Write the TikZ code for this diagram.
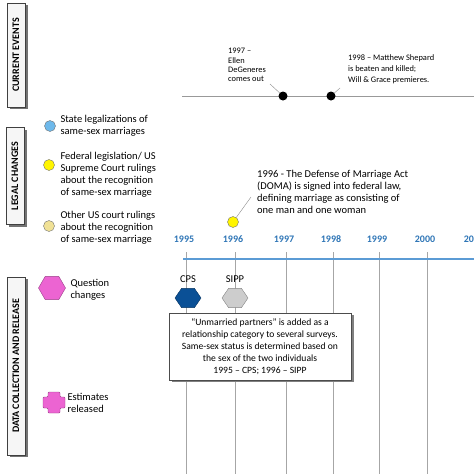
\documentclass[tikz,border=0pt]{standalone}
\usepackage{fontspec}
\setmainfont{Carlito}
\usepackage{tikz}
\usetikzlibrary{positioning,shapes.geometric,shadows}
\definecolor{yearblue}{RGB}{46,117,182}
\definecolor{axisblue}{RGB}{91,155,213}
\definecolor{stateblue}{RGB}{110,185,235}
\definecolor{fedyellow}{RGB}{255,245,0}
\definecolor{otheryellow}{RGB}{240,225,150}
\definecolor{qpink}{RGB}{236,100,210}
\definecolor{cpsblue}{RGB}{10,80,150}
\definecolor{sippgrey}{RGB}{205,205,205}

\begin{document}
\begin{tikzpicture}[x=1pt,y=-1pt,
  every node/.style={font=\fontsize{10.5}{12}\selectfont},
  secbox/.style={draw=black!75, fill=gray!7, thick, rotate=90, minimum height=18pt, inner sep=1pt,
    font=\fontsize{10}{11}\selectfont\bfseries,
    drop shadow={shadow xshift=2.5pt, shadow yshift=-2pt, fill=black!55, opacity=1}},
  legtext/.style={anchor=west, align=left},
  legdot/.style={circle, draw=black!55, minimum size=11pt, inner sep=0pt},
  evdot/.style={circle, fill=black, minimum size=9pt, inner sep=0pt},
  evtext/.style={anchor=north west, align=left, inner sep=0pt, font=\fontsize{8.4}{#1}\selectfont},
  year/.style={font=\fontsize{10}{12}\selectfont\bfseries, text=yearblue},
  hexa/.style={regular polygon, regular polygon sides=6, minimum size=26pt, inner sep=0pt, fill=#1, draw=#1!65!black},
  leader/.style={draw=black!45, thin}]
  \useasboundingbox (0,0) rectangle (474,474);
  \clip (0,0) rectangle (474,474);
  % section boxes
  \node[secbox, minimum width=104pt] (secEvents) at (16,55) {CURRENT EVENTS};
  \node[secbox, minimum width=97pt] (secLegal) at (15,176) {LEGAL CHANGES};
  \node[secbox, minimum width=178pt] (secData) at (16,366) {DATA COLLECTION AND RELEASE};
  % legend
  \node[legdot, fill=stateblue] (legState) at (50,126) {};
  \node[legtext] (txtState) at (57,126) {State legalizations of\\same-sex marriages};
  \node[legdot, fill=fedyellow] (legFederal) at (49,165) {};
  \node[legtext] (txtFederal) at (57,175) {Federal legislation/ US\\Supreme Court rulings\\about the recognition\\of same-sex marriage};
  \node[legdot, fill=otheryellow] (legOther) at (49,226) {};
  \node[legtext] (txtOther) at (57,228) {Other US court rulings\\about the recognition\\of same-sex marriage};
  \node[hexa=qpink, minimum size=27pt] (hexQuestion) at (52,288) {};
  \node[legtext] (txtQuestion) at (67,290) {Question\\changes};
  \draw[fill=qpink, draw=qpink!65!black, rounded corners=1pt]
    (48,392) -- (60,392) -- (60,397) -- (65,397) -- (65,408) -- (60,408) -- (60,413)
    -- (48,413) -- (48,408) -- (43,408) -- (43,397) -- (48,397) -- cycle;
  \coordinate (crossEstimates) at (54,402);
  \node[legtext] (txtEstimates) at (64,403) {Estimates\\released};
  % current events
  \coordinate (evL) at (182,96);
  \coordinate (evR) at (474,96);
  \draw[black!40, thick] (evL) -- (evR);
  \node[evdot] (dot97) at (283,96) {};
  \node[evdot] (dot98) at (331,96) {};
  \node[evtext=9.4] (txtEllen) at (228,48) {1997 --\\Ellen\\DeGeneres\\comes out};
  \node[evtext=11] (txtShepard) at (348,54) {1998 -- Matthew Shepard\\is beaten and killed;\\Will \& Grace premieres.};
  \coordinate (ellenEnd) at (270,84);
  \coordinate (shepardEnd) at (340,88);
  \draw[leader] (dot97) -- (ellenEnd);
  \draw[leader] (dot98) -- (shepardEnd);
  % years and grid
  \foreach \yr/\x in {1995/186,1996/235,1997/286,1998/333,1999/379,2000/427,2001/476} {
    \node[year] (y\yr) at (\x-2,239) {\yr};
    \draw[black!35, semithick] (\x,252) -- (\x,474);
  }
  \coordinate (axisL) at (183,259);
  \coordinate (axisR) at (474,259);
  \draw[axisblue, line width=1.8pt] (axisL) -- (axisR);
  % DOMA
  \node[legdot, fill=fedyellow] (domaDot) at (233,222) {};
  \node[legtext, anchor=north west, inner sep=0pt] (txtDoma) at (257,170) {1996 - The Defense of Marriage Act\\(DOMA) is signed into federal law,\\defining marriage as consisting of\\one man and one woman};
  \coordinate (domaEnd) at (251,197);
  \draw[leader] (domaDot) -- (domaEnd);
  % question changes
  \node (lblCPS) at (188,279) {CPS};
  \node (lblSIPP) at (235,279) {SIPP};
  \node[hexa=cpsblue, minimum size=26pt, yscale=0.85] (hexCPS) at (188,298) {};
  \node[hexa=sippgrey, minimum size=26pt, yscale=0.85] (hexSIPP) at (235,298) {};
  \node[draw=black!70, fill=white, thick, minimum width=182pt, minimum height=67pt, align=center,
    font=\fontsize{9.6}{12}\selectfont,
    drop shadow={shadow xshift=2.5pt, shadow yshift=-2pt, fill=black!50, opacity=1}] (callout) at (260,346.5)
    {``Unmarried partners'' is added as a\\relationship category to several surveys.\\Same-sex status is determined based on\\the sex of the two individuals\\1995 -- CPS; 1996 -- SIPP};
\end{tikzpicture}
\end{document}
